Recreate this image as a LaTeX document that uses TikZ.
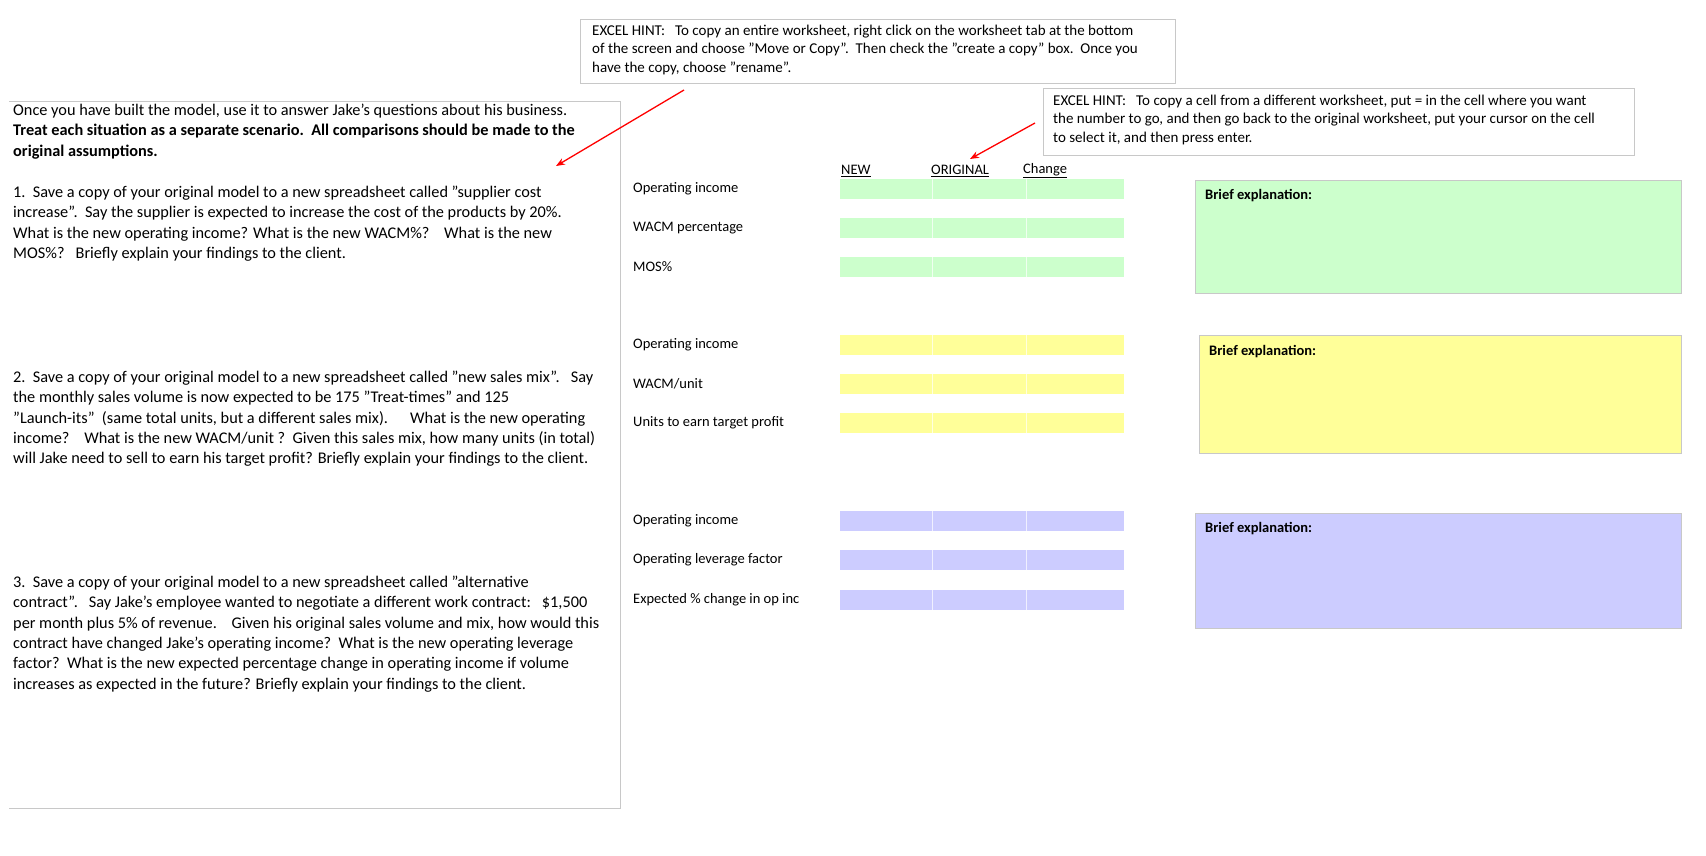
\documentclass[tikz,border=0pt]{standalone}
\usepackage{fontspec}
\defaultfontfeatures{}
\setmainfont{Carlito}
\usetikzlibrary{arrows.meta}
\definecolor{cg}{HTML}{CCFFCC}
\definecolor{cy}{HTML}{FFFF99}
\definecolor{cb}{HTML}{CCCCFF}
\definecolor{bord}{HTML}{C8C8C8}
\begin{document}
\begin{tikzpicture}[x=1pt,y=-1pt,
  para/.style={anchor=north west,inner sep=0pt,align=left,font=\fontsize{16.3}{20.3}\selectfont},
  hint/.style={anchor=north west,inner sep=0pt,align=left,font=\fontsize{15}{18.2}\selectfont},
  lab/.style={anchor=west,inner sep=0pt,font=\fontsize{14.5}{17}\selectfont},
  hdr/.style={anchor=west,inner sep=0pt,font=\fontsize{14.5}{17}\selectfont},
  brief/.style={draw=bord,line width=0.8pt},
  btxt/.style={anchor=north west,inner sep=0pt,font=\bfseries\fontsize{14.5}{17}\selectfont},
  redarrow/.style={draw=red,line width=1.3pt,-{Stealth[length=9pt,width=7pt]}}]
\useasboundingbox (0,0) rectangle (1706,856);
\fill[white] (0,0) rectangle (1706,856);
% left box
\draw[bord,line width=0.8pt] (9,101) -- (620,101) -- (620,808) -- (9,808);
\node[para] (p0) at (13,104) {Once you have built the model, use it to answer Jake's questions about his business.\\
\textbf{Treat each situation as a separate scenario.\ \ All comparisons should be made to the}\\
\textbf{original assumptions.}};
\node[para] (p1) at (13,186) {1.\ \ Save a copy of your original model to a new spreadsheet called "supplier cost\\
increase".\ \ Say the supplier is expected to increase the cost of the products by 20\%.\\
What is the new operating income? What is the new WACM\%?\ \ \ \ What is the new\\
MOS\%?\ \ \ Briefly explain your findings to the client.};
\node[para] (p2) at (13,371) {2.\ \ Save a copy of your original model to a new spreadsheet called "new sales mix".\ \ \ Say\\
the monthly sales volume is now expected to be 175 "Treat-times" and 125\\
"Launch-its"\ \ (same total units, but a different sales mix).\ \ \ \ \ \ What is the new operating\\
income?\ \ \ \ What is the new WACM/unit ?\ \ Given this sales mix, how many units (in total)\\
will Jake need to sell to earn his target profit? Briefly explain your findings to the client.};
\node[para] (p3) at (13,576) {3.\ \ Save a copy of your original model to a new spreadsheet called "alternative\\
contract".\ \ \ Say Jake's employee wanted to negotiate a different work contract:\ \ \ \$1,500\\
per month plus 5\% of revenue.\ \ \ \ Given his original sales volume and mix, how would this\\
contract have changed Jake's operating income?\ \ What is the new operating leverage\\
factor?\ \ What is the new expected percentage change in operating income if volume\\
increases as expected in the future? Briefly explain your findings to the client.};
% hint boxes
\draw[bord,line width=0.8pt,fill=white] (580,19) rectangle (1175,83);
\node[hint] (h1) at (592,25) {EXCEL HINT:\ \ \ To copy an entire worksheet, right click on the worksheet tab at the bottom\\
of the screen and choose "Move or Copy".\ \ Then check the "create a\ copy" box.\ \ Once you\\
have the copy, choose "rename".};
\draw[bord,line width=0.8pt,fill=white] (1043,88) rectangle (1634,155);
\node[hint] (h2) at (1053,95) {EXCEL HINT:\ \ \ To copy a\ cell from a\ different worksheet, put = in the cell where you want\\
the number to go, and then go back to the original worksheet, put your cursor on the cell\\
to select it, and then press enter.};
\coordinate (a1s) at (684,90); \coordinate (a1e) at (556,166);
\coordinate (a2s) at (1035,123); \coordinate (a2e) at (970,159);
\draw[redarrow] (a1s) -- (a1e);
\draw[redarrow] (a2s) -- (a2e);
% headers
\node[hdr] (hn) at (841,171) {\underline{NEW}};
\node[hdr] (ho) at (931,171) {\underline{ORIGINAL}};
\node[hdr] (hc) at (1023,171) {\underline{Change}};
% rows
\foreach \y/\c/\t in {189/cg/{Operating income},228/cg/{WACM percentage},267/cg/{MOS\%},
  345/cy/{Operating income},384/cy/{WACM/unit},423/cy/{Units to earn target profit},
  521/cb/{Operating income},560/cb/{Operating leverage factor},600/cb/{Expected \% change in op inc}}{
  \fill[\c] (840,\y-10) rectangle (1124,\y+10);
  \draw[white!70!\c,line width=0.6pt] (932,\y-10) -- (932,\y+10) (1026,\y-10) -- (1026,\y+10);
  \node[lab] at (633,\y) {\t};
}
% brief boxes
\draw[brief,fill=cg] (1195,180) rectangle (1681,293);
\node[btxt] (b1) at (1205,189) {Brief explanation:};
\draw[brief,fill=cy] (1199,335) rectangle (1681,453);
\node[btxt] (b2) at (1209,345) {Brief explanation:};
\draw[brief,fill=cb] (1195,513) rectangle (1681,628);
\node[btxt] (b3) at (1205,522) {Brief explanation:};
\end{tikzpicture}
\end{document}
